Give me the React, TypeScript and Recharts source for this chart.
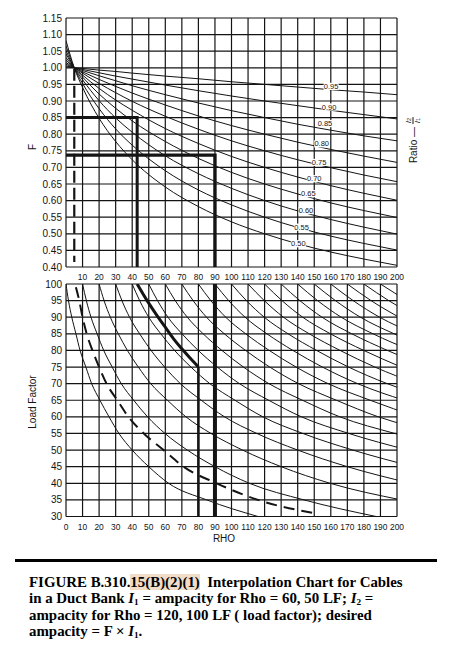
import React from "react";
import { ComposedChart, Line, Scatter, XAxis, YAxis, CartesianGrid } from "recharts";

// ---- top chart: F versus RHO, one curve per ratio I2/I1 ----
const TOP_RHO = [0, 5, 10, 20, 30, 40, 60, 80, 100, 120, 140, 160, 180, 200];
const F_095 = [1.003, 1.0, 0.998, 0.993, 0.989, 0.984, 0.975, 0.967, 0.958, 0.95, 0.942, 0.934, 0.927, 0.919];
const F_090 = [1.006, 1.0, 0.995, 0.985, 0.975, 0.966, 0.948, 0.931, 0.915, 0.9, 0.886, 0.872, 0.859, 0.846];
const F_085 = [1.011, 1.0, 0.992, 0.976, 0.961, 0.946, 0.919, 0.894, 0.871, 0.85, 0.83, 0.812, 0.795, 0.78];
const F_080 = [1.016, 1.0, 0.988, 0.965, 0.944, 0.924, 0.888, 0.855, 0.826, 0.8, 0.776, 0.754, 0.734, 0.715];
const F_075 = [1.023, 1.0, 0.984, 0.953, 0.925, 0.899, 0.854, 0.815, 0.78, 0.75, 0.723, 0.699, 0.677, 0.657];
const F_070 = [1.031, 1.0, 0.978, 0.938, 0.903, 0.872, 0.817, 0.772, 0.733, 0.7, 0.671, 0.645, 0.622, 0.601];
const F_065 = [1.042, 1.0, 0.972, 0.921, 0.878, 0.84, 0.778, 0.727, 0.685, 0.65, 0.62, 0.593, 0.57, 0.549];
const F_060 = [1.052, 1.0, 0.964, 0.901, 0.849, 0.806, 0.735, 0.681, 0.637, 0.6, 0.569, 0.543, 0.52, 0.499];
const F_055 = [1.066, 1.0, 0.953, 0.877, 0.816, 0.767, 0.69, 0.632, 0.587, 0.55, 0.519, 0.493, 0.471, 0.451];
const F_050 = [1.082, 1.0, 0.941, 0.848, 0.778, 0.723, 0.641, 0.582, 0.536, 0.5, 0.47, 0.445, 0.424, 0.405];
const TOP_CURVES = [F_095, F_090, F_085, F_080, F_075, F_070, F_065, F_060, F_055, F_050];

const RATIO_TEXT = ["0.95", "0.90", "0.85", "0.80", "0.75", "0.70", "0.65", "0.60", "0.55", "0.50"];
const RATIO_RHO = [160.2, 159, 156.5, 154.5, 152.9, 150, 146.4, 145, 142.4, 140.4];
const RATIO_F = [0.944, 0.882, 0.832, 0.771, 0.715, 0.666, 0.621, 0.57, 0.52, 0.47];

const X_TICKS = [0, 10, 20, 30, 40, 50, 60, 70, 80, 90, 100, 110, 120, 130, 140, 150, 160, 170, 180, 190, 200];
const TOP_Y_TICKS = [0.4, 0.45, 0.5, 0.55, 0.6, 0.65, 0.7, 0.75, 0.8, 0.85, 0.9, 0.95, 1.0, 1.05, 1.1, 1.15];

// worked example on the top chart
const EX1_RHO = [0, 43, 43];
const EX1_F = [0.85, 0.85, 0.4];
const EX2_RHO = [0, 90, 90];
const EX2_F = [0.737, 0.737, 0.4];
const REF_RHO = [5, 5];
const REF_F = [0.997, 0.415];

// ---- bottom chart: load factor versus RHO ----
const LF_LEVELS = [100, 95, 90, 85, 80, 75, 70, 65, 60, 55, 50, 45, 40, 35, 30];
const RHO_000 = [0, 1.5, 3.5, 6, 8.5, 12, 15.5, 20.5, 26, 32, 40, 50, 62, 85, 116];
const RHO_010 = [10, 12.3, 15.1, 18.8, 22.8, 27.9, 33.4, 40.9, 49.3, 59.8, 73.3, 90, 110.8, 143.8, 187.4];
const RHO_020 = [20, 23, 26.8, 31.6, 37.1, 43.7, 51.2, 61.3, 72.5, 87.6, 106.7, 130, 159.6, 202.6];
const RHO_030 = [30, 33.8, 38.4, 44.5, 51.4, 59.6, 69.1, 81.7, 95.8, 115.3, 140, 170, 208.3];
const RHO_040 = [40, 44.5, 50, 57.3, 65.6, 75.5, 86.9, 102.1, 119, 143.1, 173.3, 210];
const RHO_050 = [50, 55.3, 61.6, 70.1, 79.9, 91.4, 104.8, 122.5, 142.3, 170.9, 206.7];
const RHO_060 = [60, 66, 73.3, 82.9, 94.2, 107.2, 122.6, 142.9, 165.5, 198.7, 240];
const RHO_070 = [70, 76.8, 84.9, 95.7, 108.5, 123.1, 140.5, 163.4, 188.8, 226.4];
const RHO_080 = [80, 87.5, 96.5, 108.6, 122.8, 139, 158.4, 183.8, 212];
const RHO_090 = [90, 98.3, 108.2, 121.4, 137.1, 154.9, 176.2, 204.2];
const RHO_100 = [100, 109, 119.8, 134.2, 151.4, 170.7, 194.1, 224.6];
const RHO_110 = [110, 119.8, 131.4, 147, 165.6, 186.6, 211.9];
const RHO_120 = [120, 130.5, 143, 159.8, 179.9, 202.5];
const RHO_130 = [130, 141.3, 154.7, 172.7, 194.2, 218.3];
const RHO_140 = [140, 152, 166.3, 185.5, 208.5];
const RHO_150 = [150, 162.8, 177.9, 198.3, 222.8];
const RHO_160 = [160, 173.5, 189.5, 211.1];
const RHO_170 = [170, 184.3, 201.2];
const RHO_180 = [180, 195, 212.8];
const RHO_190 = [190, 205.8];
const LF_CURVES = [
  RHO_000, RHO_010, RHO_020, RHO_030, RHO_040, RHO_050, RHO_060, RHO_070, RHO_080, RHO_090,
  RHO_100, RHO_110, RHO_120, RHO_130, RHO_140, RHO_150, RHO_160, RHO_170, RHO_180, RHO_190,
];

const BOTTOM_Y_TICKS = [30, 35, 40, 45, 50, 55, 60, 65, 70, 75, 80, 85, 90, 95, 100];

// worked example on the bottom chart
const DASH_LF = [99, 95, 90, 85, 80, 75, 70, 65, 60, 55, 50, 45, 40, 35, 31];
const DASH_RHO = [6, 8, 10, 12.5, 16, 20, 24.5, 31, 37.7, 47, 59, 71, 91, 116, 150];
const BOLD_CURVE_RHO = [43, 49, 55, 60, 65, 70, 75, 80];
const BOLD_CURVE_LF = [100, 95, 90.5, 87, 83.5, 80.5, 77.7, 75];
const DROP80_RHO = [80, 80];
const DROP80_LF = [75, 30];
const DROP90_RHO = [90, 90];
const DROP90_LF = [100, 30];

const FONT = '"Liberation Sans", Arial, Helvetica, sans-serif';
const INK = "#141414";

const pairs = (xs: number[], ys: number[]) => xs.map((x, i) => ({ x, y: ys[i] }));
const byLevel = (rhos: number[]) => rhos.map((x, i) => ({ x, y: LF_LEVELS[i] }));

const tickStyle = { fill: INK, fontSize: 10, fontFamily: FONT };

// narrow figures, like the condensed face of the original
const makeRhoTick = (dy: number, hideZero: boolean) => (props: any) => {
  const { x, y, payload } = props;
  const v = payload.value;
  if (hideZero && v === 0) return <g />;
  return (
    <text
      transform={`translate(${x},${y + dy}) scale(0.86,1)`}
      textAnchor="middle"
      fontSize={9.8}
      fontFamily={FONT}
      fill={INK}
    >
      {String(v)}
    </text>
  );
};

const RatioTag = (props: any) => {
  const { cx, cy, payload } = props;
  if (cx == null || cy == null) return null;
  return (
    <g>
      <rect x={cx - 7.5} y={cy - 3.6} width={15} height={7.2} fill="#fff" />
      <text x={cx} y={cy + 2.6} textAnchor="middle" fontSize={7.5} fontFamily={FONT} fill={INK}>
        {payload.label}
      </text>
    </g>
  );
};

const ratioRows = RATIO_TEXT.map((label, i) => ({ x: RATIO_RHO[i], y: RATIO_F[i], label }));

const thin = { stroke: INK, strokeWidth: 1, dot: false, activeDot: false, isAnimationActive: false } as const;

const TopChart = () => (
  <ComposedChart width={455} height={290} margin={{ top: 18, right: 58, bottom: 0, left: 0 }}>
    <CartesianGrid stroke={INK} strokeWidth={1.2} />
    <XAxis
      dataKey="x"
      type="number"
      domain={[0, 200]}
      ticks={X_TICKS}
      interval={0}
      allowDataOverflow
      axisLine={false}
      tickLine={false}
      tickSize={0}
      tickMargin={5}
      height={23}
      tick={makeRhoTick(7.6, true)}
    />
    <YAxis
      dataKey="y"
      type="number"
      domain={[0.4, 1.15]}
      ticks={TOP_Y_TICKS}
      interval={0}
      allowDataOverflow
      axisLine={false}
      tickLine={false}
      tickSize={0}
      tickMargin={4}
      width={66}
      tick={tickStyle}
      tickFormatter={(v: number) => v.toFixed(2)}
    />
    {TOP_CURVES.map((fs, i) => (
      <Line key={"r" + i} data={pairs(TOP_RHO, fs)} dataKey="y" type="monotone" {...thin} />
    ))}
    <Line data={pairs(EX1_RHO, EX1_F)} dataKey="y" type="linear" stroke={INK} strokeWidth={3} dot={false} activeDot={false} isAnimationActive={false} />
    <Line data={pairs(EX2_RHO, EX2_F)} dataKey="y" type="linear" stroke={INK} strokeWidth={3.4} dot={false} activeDot={false} isAnimationActive={false} />
    <Line data={pairs(REF_RHO, REF_F)} dataKey="y" type="linear" stroke={INK} strokeWidth={2.2} strokeDasharray="12 5" dot={false} activeDot={false} isAnimationActive={false} />
    <Scatter data={ratioRows} dataKey="y" shape={RatioTag} isAnimationActive={false} />
  </ComposedChart>
);

const BottomChart = () => (
  <ComposedChart width={455} height={260} margin={{ top: 4, right: 58, bottom: 0, left: 0 }}>
    <CartesianGrid stroke={INK} strokeWidth={1.2} />
    <XAxis
      dataKey="x"
      type="number"
      domain={[0, 200]}
      ticks={X_TICKS}
      interval={0}
      allowDataOverflow
      axisLine={false}
      tickLine={false}
      tickSize={0}
      tickMargin={6}
      height={23.5}
      tick={makeRhoTick(7.8, false)}
    />
    <YAxis
      dataKey="y"
      type="number"
      domain={[30, 100]}
      ticks={BOTTOM_Y_TICKS}
      interval={0}
      allowDataOverflow
      axisLine={false}
      tickLine={false}
      tickSize={0}
      tickMargin={4}
      width={66}
      tick={tickStyle}
    />
    {LF_CURVES.map((rs, i) => (
      <Line key={"c" + i} data={byLevel(rs)} dataKey="y" type="monotone" {...thin} />
    ))}
    <Line data={pairs(DASH_RHO, DASH_LF)} dataKey="y" type="monotone" stroke={INK} strokeWidth={2} strokeDasharray="11 7" dot={false} activeDot={false} isAnimationActive={false} />
    <Line data={pairs(BOLD_CURVE_RHO, BOLD_CURVE_LF)} dataKey="y" type="monotone" stroke={INK} strokeWidth={3} dot={false} activeDot={false} isAnimationActive={false} />
    <Line data={pairs(DROP80_RHO, DROP80_LF)} dataKey="y" type="linear" stroke={INK} strokeWidth={2.6} dot={false} activeDot={false} isAnimationActive={false} />
    <Line data={pairs(DROP90_RHO, DROP90_LF)} dataKey="y" type="linear" stroke={INK} strokeWidth={4} dot={false} activeDot={false} isAnimationActive={false} />
  </ComposedChart>
);

const abs = (left: number, top: number, extra: React.CSSProperties = {}): React.CSSProperties => ({
  position: "absolute",
  left,
  top,
  whiteSpace: "nowrap",
  ...extra,
});

const I = ({ sub }: { sub: string }) => (
  <span>
    <i>I</i>
    <sub style={{ fontSize: "0.62em", verticalAlign: "-0.25em" }}>{sub}</sub>
  </span>
);

const captionLine: React.CSSProperties = {
  fontFamily: '"Liberation Serif", "Times New Roman", serif',
  fontWeight: 700,
  fontSize: 14.9,
  lineHeight: "16px",
  color: "#000",
};

export default function App() {
  return (
    <div style={{ position: "absolute", left: 0, top: 0, width: 455, height: 648, background: "#fff", overflow: "hidden" }}>
      <div style={abs(0, 0)}>
        <TopChart />
      </div>
      <div style={abs(0, 280)}>
        <BottomChart />
      </div>

      {/* axis titles */}
      <div style={abs(31.7, 146.7, { fontFamily: FONT, fontSize: 10, color: INK, transform: "translate(-50%, -50%) rotate(-90deg)" })}>F</div>
      <div style={abs(31.7, 401.7, { fontFamily: FONT, fontSize: 10, color: INK, transform: "translate(-50%, -50%) rotate(-90deg)" })}>Load Factor</div>
      <div style={abs(224, 538, { fontFamily: FONT, fontSize: 10, color: INK, transform: "translate(-50%, -50%)" })}>RHO</div>
      <div
        style={abs(413, 140, {
          fontFamily: FONT,
          fontSize: 10,
          color: INK,
          transform: "translate(-50%, -50%) rotate(-90deg)",
          display: "flex",
          alignItems: "center",
        })}
      >
        <span>Ratio —&nbsp;</span>
        <span style={{ display: "inline-flex", flexDirection: "column", alignItems: "center", fontSize: 8, lineHeight: "8px" }}>
          <span style={{ borderBottom: `1px solid ${INK}`, padding: "0 1px" }}>
            <i>I</i>
            <span style={{ fontSize: 5.5 }}>2</span>
          </span>
          <span>
            <i>I</i>
            <span style={{ fontSize: 5.5 }}>1</span>
          </span>
        </span>
      </div>

      {/* caption */}
      <div style={abs(15, 559, { width: 422, height: 2.6, background: "#000" })} />
      <div style={abs(29, 573.5, captionLine)}>
        FIGURE B.310.<span style={{ background: "#f1dcc8" }}>15(B)(2)(1)</span>
        {"\u00a0\u00a0"}Interpolation Chart for Cables
      </div>
      <div style={abs(29, 590, captionLine)}>
        in a Duct Bank <I sub="1" /> = ampacity for Rho = 60, 50 LF; <I sub="2" /> =
      </div>
      <div style={abs(29, 606.5, captionLine)}>ampacity for Rho = 120, 100 LF ( load factor); desired</div>
      <div style={abs(29, 622.5, captionLine)}>
        ampacity = F × <I sub="1" />.
      </div>
    </div>
  );
}
